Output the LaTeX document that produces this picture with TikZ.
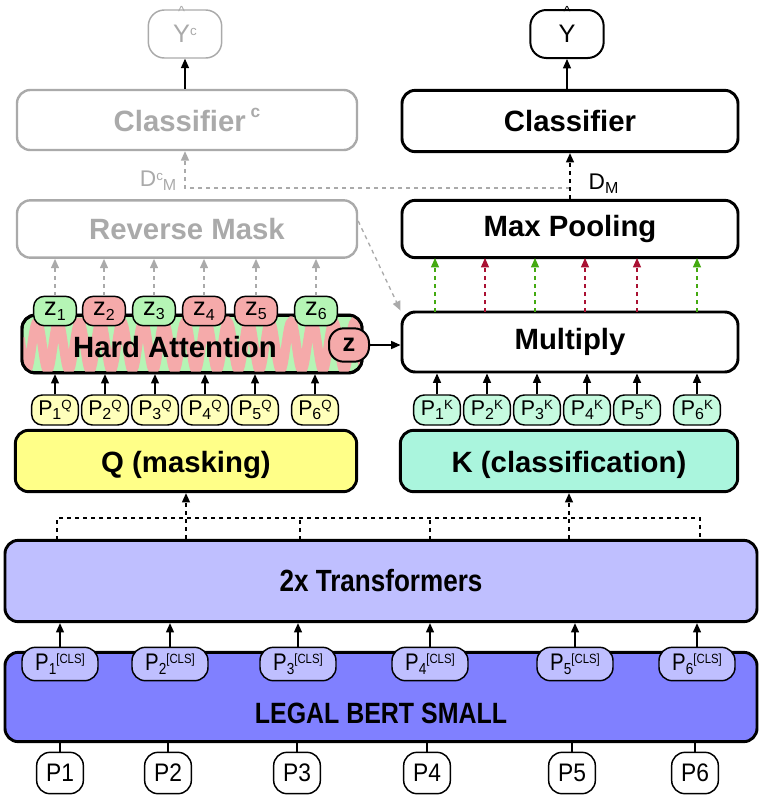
\documentclass[tikz,border=0pt]{standalone}
\usepackage{fontspec}
\setmainfont{Liberation Sans}
\usetikzlibrary{arrows.meta}
\newcommand\mysb[1]{\raisebox{-0.35ex}{\fontsize{12}{12}\selectfont #1}}
\newcommand\mysp[1]{\raisebox{0.55ex}{\fontsize{10}{10}\selectfont #1}}
\newcommand\myhat{\leavevmode\ooalign{Y\cr\hidewidth\raisebox{1.05em}{\fontsize{11}{11}\selectfont\char"005E}\hidewidth\cr}}
\definecolor{gr}{HTML}{AAAAAA}
\definecolor{qy}{HTML}{FFFF88}
\definecolor{qyl}{HTML}{FFFFBB}
\definecolor{km}{HTML}{AAF5DD}
\definecolor{kml}{HTML}{C6FADF}
\definecolor{tr}{HTML}{BFBFFF}
\definecolor{lb}{HTML}{8080FF}
\definecolor{zg}{HTML}{B5F5B5}
\definecolor{zr}{HTML}{F5AAAA}
\definecolor{ag}{HTML}{44AA11}
\definecolor{ar}{HTML}{AA1133}
\begin{document}
\begin{tikzpicture}[x=0.75pt,y=-0.75pt,
 big/.style={draw,line width=2.2pt,rounded corners=10pt,inner sep=0pt,font=\bfseries\fontsize{22}{22}\selectfont},
 gbig/.style={big,draw=gr,line width=1.8pt,text=gr},
 sm/.style={draw,line width=1.1pt,rounded corners=8pt,inner sep=0pt,minimum height=22.5pt,font=\fontsize{16}{16}\selectfont},
 arr/.style={-{Triangle[length=7pt,width=6pt]},line width=1pt},
 darr/.style={arr,dashed},
 gdarr/.style={darr,draw=gr,color=gr}]
\useasboundingbox (0,0) rectangle (762,804);
% top outputs
\node[sm,draw=gr,text=gr,minimum width=55pt,minimum height=36pt,rounded corners=12pt,font=\fontsize{19}{19}\selectfont] (yc) at (185,34) {\myhat\mysp{c}};
\node[sm,line width=1.5pt,minimum width=55pt,minimum height=36pt,rounded corners=12pt,font=\fontsize{19}{19}\selectfont] (y) at (567,34) {\myhat};
\node[gbig,minimum width=255pt,minimum height=45pt] (clc) at (187,120) {Classifier\,\raisebox{0.9ex}{\fontsize{13}{13}\selectfont c}};
\node[big,minimum width=252pt,minimum height=46pt] (cl) at (570,121) {Classifier};
\node[gbig,minimum width=255pt,minimum height=43pt] (rm) at (187,229) {Reverse Mask};
\node[big,minimum width=252pt,minimum height=43pt] (mp) at (570,229) {Max Pooling};
\node[big,minimum width=252pt,minimum height=45pt] (mul) at (570,342) {Multiply};
% hard attention
\node[big,fill=zg,minimum width=255pt,minimum height=43pt] (ha) at (192,344) {};
\begin{scope}
\clip[rounded corners=10pt] (23,316) rectangle (361,372);
\draw[zr,line width=7pt] plot[domain=20:365,samples=300] (\x,{346+24*sin(\x*17)});
\end{scope}
\draw[line width=2.2pt,rounded corners=10pt] (22,315) rectangle (362,373);
\node[font=\bfseries\fontsize{22}{22}\selectfont] at (175,347) {Hard Attention};
\node[sm,fill=zr,line width=1.5pt,minimum width=30pt,minimum height=25pt,rounded corners=11pt,font=\bfseries\fontsize{19}{19}\selectfont] (z) at (349,345) {z};
\foreach \i/\x/\c in {1/55/zg,2/104/zr,3/154/zg,4/204/zr,5/256/zr,6/316/zg}{
 \node[sm,fill=\c,minimum width=32pt,minimum height=22pt] (z\i) at (\x,311) {\fontsize{19}{19}\selectfont z\mysb{\i}};
 \draw[gdarr] (z\i.north) -- (z\i.north |- rm.south);
}
\draw[arr] (z) -- (mul.west |- z);
\draw[gdarr] (rm.east) ++(0,-8) -- (mul.north west);
% D connections
\coordinate (dj) at (185,188);
\coordinate (dk) at (570,188);
\draw[gdarr] (dk) -- (dj) -- (clc.south -| dj);
\node[gr,font=\fontsize{17}{17}\selectfont,anchor=east] at (181,181) {D\mysp{c}\mysb{M}};
\draw[darr] (mp.north -| dk) -- (cl.south -| dk);
\node[font=\fontsize{17}{17}\selectfont,anchor=west] at (584,184) {D\mysb{M}};
\draw[arr] (clc.north -| yc) -- (yc.south);
\draw[arr] (cl.north -| y) -- (y.south);
% Max pooling arrows
\foreach \x/\c in {435/ag,485/ar,535/ag,585/ar,637/ar,697/ag}{
 \draw[darr,draw=\c,color=\c] (\x,312) -- (\x,258);
}
% Q and K
\node[big,fill=qy,minimum width=256pt,minimum height=46pt] (q) at (186,461) {};
\node[font=\bfseries\fontsize{22}{22}\selectfont] at (186,465) {Q (masking)};
\node[big,fill=km,minimum width=253pt,minimum height=46pt] (k) at (569,461) {};
\node[font=\bfseries\fontsize{22}{22}\selectfont] at (569,465) {K (classification)};
\foreach \i/\x in {1/55,2/105,3/155,4/205,5/255,6/315}{
 \node[sm,fill=qyl,minimum width=35pt] (pq\i) at (\x,410) {P\mysb{\i}\mysp{Q}};
 \draw[arr] (pq\i.north) -- (pq\i.north |- ha.south);
}
\foreach \i/\x in {1/437,2/487,3/537,4/587,5/637,6/697}{
 \node[sm,fill=kml,minimum width=35pt] (pk\i) at (\x,410) {P\mysb{\i}\mysp{K}};
 \draw[arr] (pk\i.north) -- (pk\i.north |- mul.south);
}
% transformers
\node[big,fill=tr,minimum width=564pt,minimum height=61pt] (tf) at (381,581) {\fontsize{23}{23}\selectfont\scalebox{0.85}[1]{2x Transformers}};
\draw[dashed,line width=1pt] (57,540) -- (57,518) -- (700,518) -- (700,540);
\draw[dashed,line width=1pt] (300,540) -- (300,518);
\draw[dashed,line width=1pt] (430,540) -- (430,518);
\draw[darr] (tf.north -| q) -- (q.south);
\draw[darr] (tf.north -| k) -- (k.south);
% legal bert
\node[big,fill=lb,minimum width=564pt,minimum height=67pt] (lbn) at (381,697) {};
\node[font=\bfseries\fontsize{22}{22}\selectfont] at (381,713) {\scalebox{0.85}[1]{LEGAL BERT SMALL}};
\foreach \i/\x in {1/60,2/170,3/298,4/430,5/575,6/697}{
 \node[sm,fill=tr,minimum width=57pt,minimum height=25pt,rounded corners=10pt] (pc\i) at (\x,664) {\fontsize{18}{18}\selectfont\scalebox{0.85}[1]{P\mysb{\i}\mysp{[CLS]}}};
 \draw[arr] (pc\i.north) -- (pc\i.north |- tf.south);
}
\foreach \i/\x in {1/60,2/168,3/297,4/427,5/572,6/695}{
 \node[sm,minimum width=35pt,minimum height=31pt,rounded corners=10pt,font=\fontsize{19}{19}\selectfont] (p\i) at (\x,773) {\scalebox{0.9}[1]{P\i}};
 \draw[line width=1pt] (p\i.north) -- (p\i.north |- lbn.south);
}
\end{tikzpicture}
\end{document}
